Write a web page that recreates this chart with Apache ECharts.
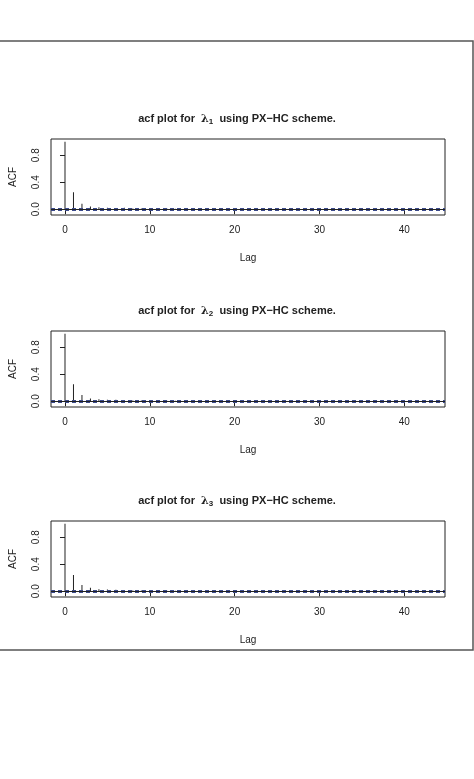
<!DOCTYPE html><html><head><meta charset="utf-8"><script src="https://cdn.jsdelivr.net/npm/echarts@6/dist/echarts.min.js"></script>
<style>body{margin:0;background:#fff}#c{width:474px;height:779px}</style></head><body><div id="c"></div><script>
const lags=[0,1,2,3,4,5,6,7,8,9,10,11,12,13,14,15,16,17,18,19,20,21,22,23,24,25,26,27,28,29,30,31,32,33,34,35,36,37,38,39,40,41,42,43,44];
const acf1=[1,0.25,0.08,0.04,0.03,0.02,0.015,0.02,0.01,0.01,0.008,0.006,0.01,0.005,0.004,0.006,0.003,0.004,0.002,0.003,0.002,0.003,0.002,0.001,0.002,0.001,0.002,0.001,0.001,0.002,0.001,0.001,0.001,0.002,0.001,0.001,0.001,0.001,0.001,0.001,0.001,0.001,0.001,0.001,0.001];
const acf2=[1,0.25,0.09,0.04,0.03,0.02,0.02,0.015,0.01,0.01,0.008,0.006,0.005,0.005,0.004,0.004,0.003,0.003,0.002,0.003,0.002,0.002,0.002,0.001,0.002,0.001,0.001,0.001,0.001,0.001,0.001,0.001,0.001,0.001,0.001,0.001,0.001,0.001,0.001,0.001,0.001,0.001,0.001,0.001,0.001];
const acf3=[1,0.24,0.09,0.05,0.03,0.025,0.02,0.015,0.012,0.01,0.008,0.006,0.005,0.005,0.004,0.004,0.003,0.003,0.002,0.002,0.002,0.002,0.002,0.001,0.001,0.001,0.001,0.001,0.001,0.001,0.001,0.001,0.001,0.001,0.001,0.001,0.001,0.001,0.001,0.001,0.001,0.001,0.001,0.001,0.001];
const ciBound=0.02;
const xTicks=[0,10,20,30,40];
const yTicks=[0,0.4,0.8];
const series=[acf1,acf2,acf3];
const subs=['1','2','3'];
const tops=[139,331,521];
const ch=echarts.init(document.getElementById('c'));
const F='Liberation Sans';
const grid=[],xAxis=[],yAxis=[],ser=[],title=[];
tops.forEach((t,i)=>{
 grid.push({left:49,width:396,top:t,height:76,show:true,borderColor:'#222',borderWidth:1,backgroundColor:'transparent'});
 xAxis.push({gridIndex:i,type:'value',min:-1.65,max:44.8,name:'Lag',nameLocation:'middle',nameGap:38,nameTextStyle:{fontFamily:F,fontSize:10,color:'#222'},
  axisLine:{show:false},splitLine:{show:false},axisTick:{show:true,length:5,lineStyle:{color:'#222'},customValues:xTicks},
  axisLabel:{fontFamily:F,fontSize:10,color:'#222',margin:10,customValues:xTicks}});
 yAxis.push({gridIndex:i,type:'value',min:-0.086,max:1.04,name:'ACF',nameLocation:'middle',nameGap:33,nameTextStyle:{fontFamily:F,fontSize:10,color:'#222'},
  axisLine:{show:false},splitLine:{show:false},axisTick:{show:true,length:5,lineStyle:{color:'#222'},customValues:yTicks},
  axisLabel:{fontFamily:F,fontSize:10,color:'#222',rotate:90,margin:10,customValues:yTicks,formatter:v=>v.toFixed(1)}});
 ser.push({type:'bar',xAxisIndex:i,yAxisIndex:i,barWidth:1,itemStyle:{color:'#222'},data:lags.map((l,k)=>[l,series[i][k]]),
  markLine:{symbol:'none',silent:true,label:{show:false},data:[{yAxis:0,lineStyle:{color:'#222',type:'solid',width:1}},{yAxis:ciBound,lineStyle:{color:'#3b4a8c',type:[4,3],width:1}},{yAxis:-ciBound,lineStyle:{color:'#3b4a8c',type:[4,3],width:1}}]}});
 title.push({text:'{a|acf plot for  }{l|λ}{s|'+subs[i]+'}{a|  using PX−HC scheme.}',left:'center',top:t-32,
  textStyle:{rich:{a:{fontFamily:F,fontSize:11,color:'#222'},l:{fontFamily:'DejaVu Serif',fontSize:11,color:'#222'},s:{fontFamily:F,fontSize:8,color:'#222',verticalAlign:'bottom',padding:[6,0,0,0]}}}});
});
ch.setOption({animation:false,title,grid,xAxis,yAxis,series:ser,
 graphic:[{type:'rect',shape:{x:-2,y:41,width:475,height:609},style:{fill:'none',stroke:'#555',lineWidth:1.5}}]});
</script></body></html>
